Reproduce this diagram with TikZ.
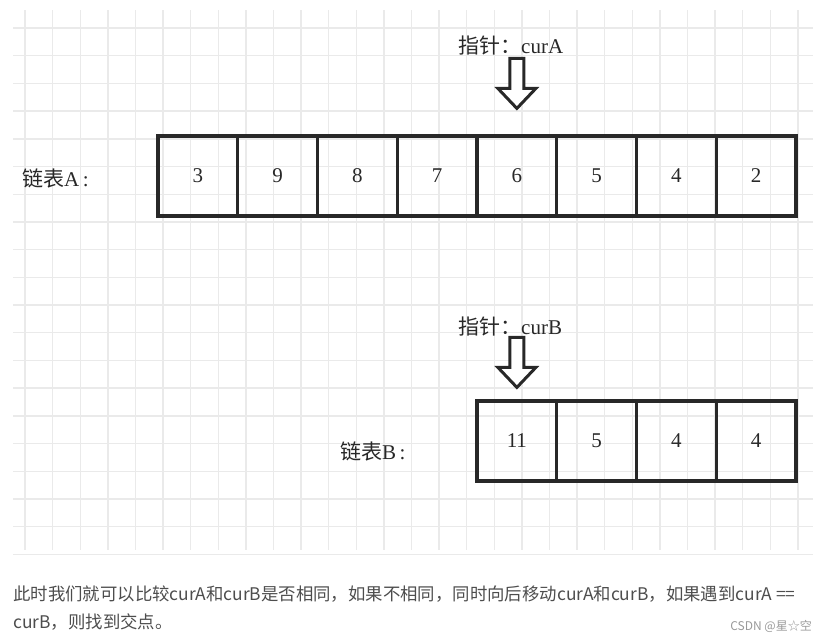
\documentclass[tikz,border=0pt]{standalone}
\usepackage{fontspec}
\setmainfont{Liberation Serif}
\newfontfamily\cjk{Noto Sans CJK SC}
\usepackage{tikz}
\usetikzlibrary{positioning,calc}
\definecolor{gridgray}{RGB}{234,234,234}
\definecolor{boxdark}{RGB}{40,40,40}
\definecolor{textgray}{RGB}{77,77,77}
\tikzset{
    cell/.style={draw=boxdark, line width=3.2pt, minimum width=79.75pt, minimum height=80pt, inner sep=0pt, font=\fontsize{21}{21}\selectfont, text=boxdark},
    label/.style={font=\fontsize{21}{21}\selectfont, text=boxdark, inner sep=0pt},
    pointer/.style={draw=boxdark, line width=3pt, fill=white, line join=miter}
}
\begin{document}
\begin{tikzpicture}[x=1pt,y=-1pt]
        \useasboundingbox (0,0) rectangle (827,640);
        % grid paper
        \foreach \i in {0,...,28}
            \draw[gridgray, line width=1.4pt] (25+27.6*\i,10) -- (25+27.6*\i,550);
        \foreach \j in {0,...,19}
            \draw[gridgray, line width=1.4pt] (13,28+27.7*\j) -- (813,28+27.7*\j);
        % list A
        \node[label, anchor=west] (labelA) at (22,178) {{\cjk 链表}A\,:};
        \foreach \v [count=\k] in {3,9,8,7,6,5,4,2}
            \node[cell] (a\k) at (158+79.75*\k-39.875,176) {\v};
        % list B
        \node[label, anchor=west] (labelB) at (340,451) {{\cjk 链表}B\,:};
        \foreach \v [count=\k] in {11,5,4,4}
            \node[cell] (b\k) at (477+79.75*\k-39.875,441) {\v};
        % pointers
        \draw[pointer] ($(a5.north)+(-7,-76)$) -- ++(14,0) -- ++(0,30) -- ++(12,0) -- ++(-19,20) -- ++(-19,-20) -- ++(12,0) -- cycle;
        \draw[pointer] ($(b1.north)+(-7,-62)$) -- ++(14,0) -- ++(0,30) -- ++(12,0) -- ++(-19,20) -- ++(-19,-20) -- ++(12,0) -- cycle;
        \node[label, anchor=west] (ptrA) at (458,46) {{\cjk 指针：}curA};
        \node[label, anchor=west] (ptrB) at (458,327) {{\cjk 指针：}curB};
        % caption
        \node[anchor=west, text=textgray, inner sep=0pt, font=\cjk\fontsize{17.4}{17.4}\selectfont] (cap1) at (13,594) {此时我们就可以比较curA和curB是否相同，如果不相同，同时向后移动curA和curB，如果遇到curA ==};
        \node[anchor=west, text=textgray, inner sep=0pt, font=\cjk\fontsize{17.4}{17.4}\selectfont] (cap2) at (13,622) {curB，则找到交点。};
        \node[anchor=east, text=gray!80, inner sep=0pt, font=\cjk\fontsize{12}{12}\selectfont] (mark) at (812,626) {CSDN @星☆空};
    \end{tikzpicture}
\end{document}
